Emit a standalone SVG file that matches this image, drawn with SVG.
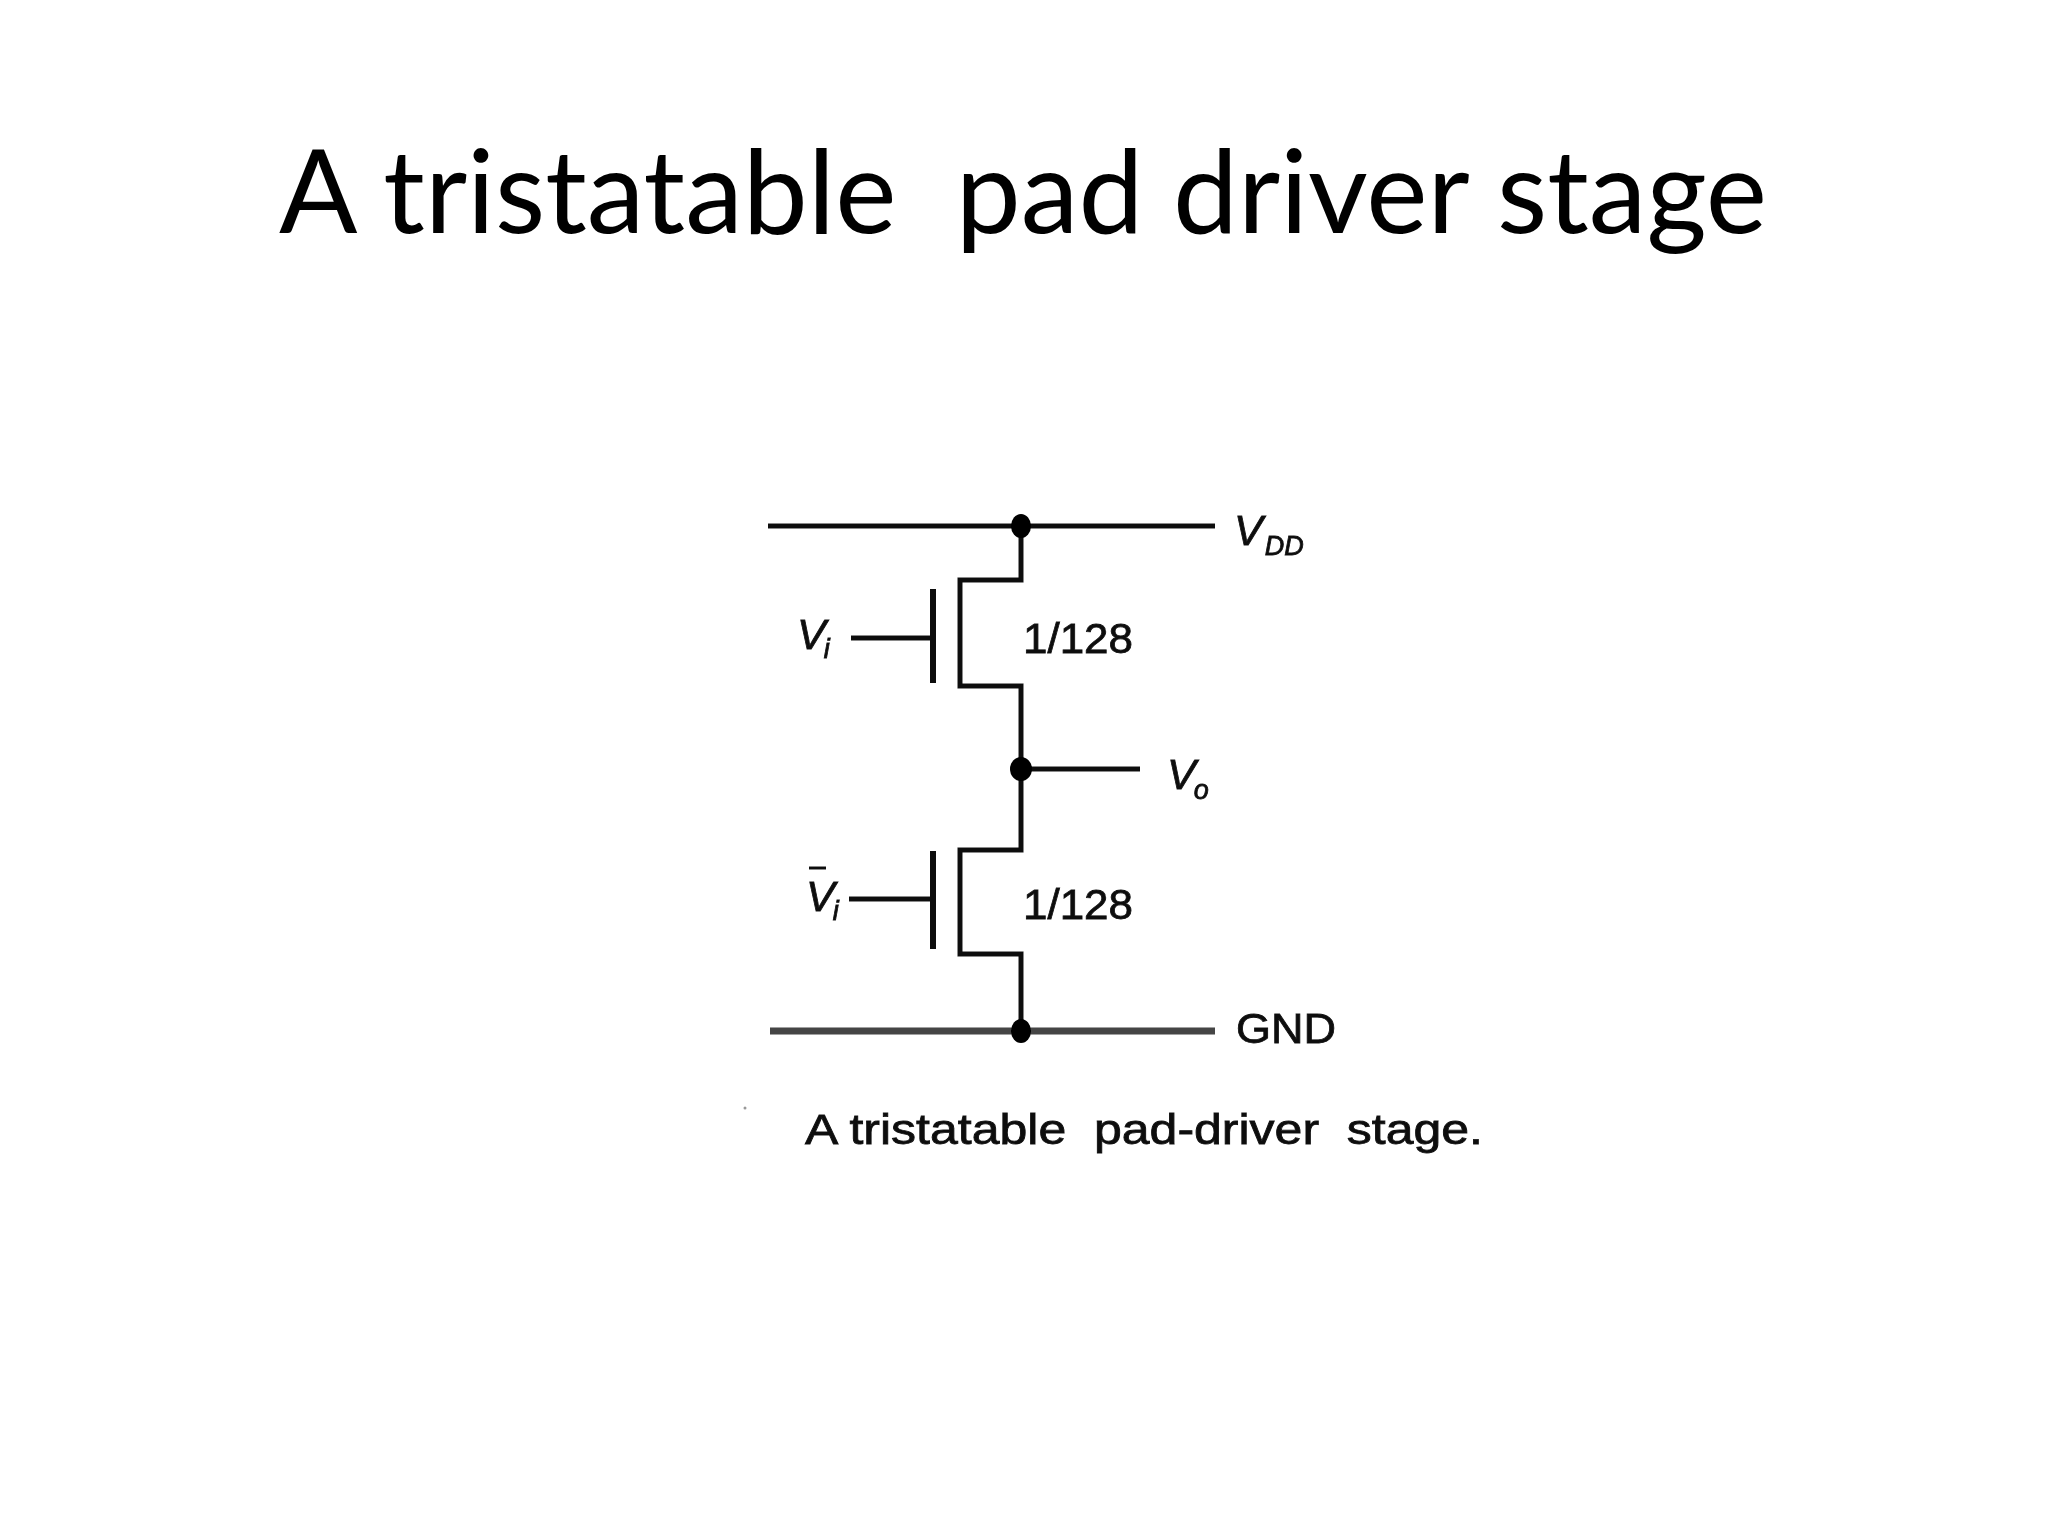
<svg xmlns="http://www.w3.org/2000/svg" width="2048" height="1536" viewBox="0 0 2048 1536">
<defs><filter id="soft" x="-5%" y="-5%" width="110%" height="110%"><feGaussianBlur stdDeviation="0.7"/></filter></defs>
<style>
.w{stroke:#111;stroke-width:5;fill:none}
.t{font-family:"Liberation Sans",Arial,sans-serif;fill:#111;stroke:#111;stroke-width:.8;font-size:43px}
.i{font-style:italic}
.s{font-size:27px}
</style>
<rect width="2048" height="1536" fill="#fff"/>
<text x="279" y="233" textLength="1488" lengthAdjust="spacingAndGlyphs" xml:space="preserve" style="font-family:Lato,'Open Sans',sans-serif;font-size:116px;fill:#000">A tristatable  pad driver stage</text>
<g filter="url(#soft)">
<g id="connectors">
<path class="w" d="M768 526H1215M1021 526V580H960V686H1021V850H960V954H1021V1031M1021 769H1140M930 638H851M930 899H849"/>
<path class="w" style="stroke:#444;stroke-width:7" d="M770 1031H1215"/>
<path class="w" style="stroke-width:6" d="M933 589V683M933 851V949"/>
<ellipse cx="1021" cy="526" rx="10" ry="12" fill="#000"/><ellipse cx="1021" cy="769" rx="11" ry="12" fill="#000"/><ellipse cx="1021" cy="1031" rx="10" ry="12" fill="#000"/>
</g>
<g id="labels">
<text class="t i" x="1234" y="545">V<tspan class="s" dx="2" dy="10">DD</tspan></text>
<text class="t i" x="797" y="649">V<tspan class="s" dx="-2" dy="9">i</tspan></text>
<text class="t" x="1023" y="653" textLength="110" lengthAdjust="spacingAndGlyphs">1/128</text>
<text class="t i" x="1167" y="789">V<tspan class="s" dx="-2" dy="10">o</tspan></text>
<text class="t i" x="806" y="911">V<tspan class="s" dx="-2" dy="9">i</tspan></text><path class="w" style="stroke-width:3" d="M809 868H826"/>
<text class="t" x="1023" y="919" textLength="110" lengthAdjust="spacingAndGlyphs">1/128</text>
<text class="t" x="1236" y="1043" textLength="100" lengthAdjust="spacingAndGlyphs">GND</text>
<text class="t" x="805" y="1144" textLength="678" lengthAdjust="spacingAndGlyphs" xml:space="preserve">A tristatable  pad-driver  stage.</text>
<circle cx="745" cy="1108" r="1.5" fill="#999"/>
</g>
</g>
</svg>
